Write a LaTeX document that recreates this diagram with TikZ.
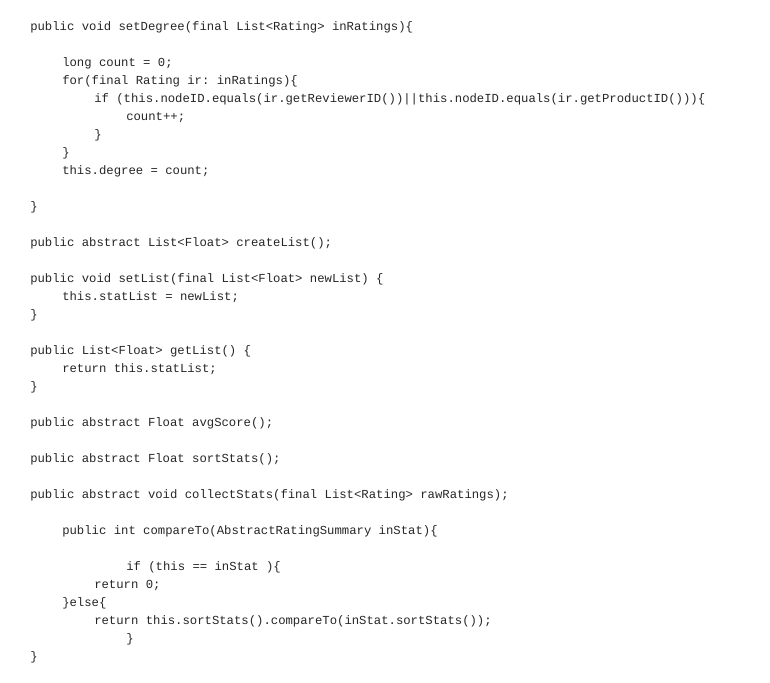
\documentclass[tikz,border=0pt]{standalone}
\usepackage{fontspec}
\setmonofont{Liberation Mono}
\begin{document}
\begin{tikzpicture}[x=0.75pt, y=-0.75pt,
    codeline/.style={anchor=base west, inner sep=0pt, font=\ttfamily\fontsize{9.2}{11}\selectfont, text=black!85}]
    \useasboundingbox (0,0) rectangle (770,682);
    \node[codeline] (l1) at (30,30) {public void setDegree(final List<Rating> inRatings)\{};
    \node[codeline] (l2) at (62,66) {long count = 0;};
    \node[codeline] (l3) at (62,84) {for(final Rating ir: inRatings)\{};
    \node[codeline] (l4) at (94,102) {if (this.nodeID.equals(ir.getReviewerID())||this.nodeID.equals(ir.getProductID()))\{};
    \node[codeline] (l5) at (126,120) {count++;};
    \node[codeline] (l6) at (94,138) {\}};
    \node[codeline] (l7) at (62,156) {\}};
    \node[codeline] (l8) at (62,174) {this.degree = count;};
    \node[codeline] (l9) at (30,210) {\}};
    \node[codeline] (l10) at (30,246) {public abstract List<Float> createList();};
    \node[codeline] (l11) at (30,282) {public void setList(final List<Float> newList) \{};
    \node[codeline] (l12) at (62,300) {this.statList = newList;};
    \node[codeline] (l13) at (30,318) {\}};
    \node[codeline] (l14) at (30,354) {public List<Float> getList() \{};
    \node[codeline] (l15) at (62,372) {return this.statList;};
    \node[codeline] (l16) at (30,390) {\}};
    \node[codeline] (l17) at (30,426) {public abstract Float avgScore();};
    \node[codeline] (l18) at (30,462) {public abstract Float sortStats();};
    \node[codeline] (l19) at (30,498) {public abstract void collectStats(final List<Rating> rawRatings);};
    \node[codeline] (l20) at (62,534) {public int compareTo(AbstractRatingSummary inStat)\{};
    \node[codeline] (l21) at (126,570) {if (this == inStat )\{};
    \node[codeline] (l22) at (94,588) {return 0;};
    \node[codeline] (l23) at (62,606) {\}else\{};
    \node[codeline] (l24) at (94,624) {return this.sortStats().compareTo(inStat.sortStats());};
    \node[codeline] (l25) at (126,642) {\}};
    \node[codeline] (l26) at (30,660) {\}};
\end{tikzpicture}
\end{document}
